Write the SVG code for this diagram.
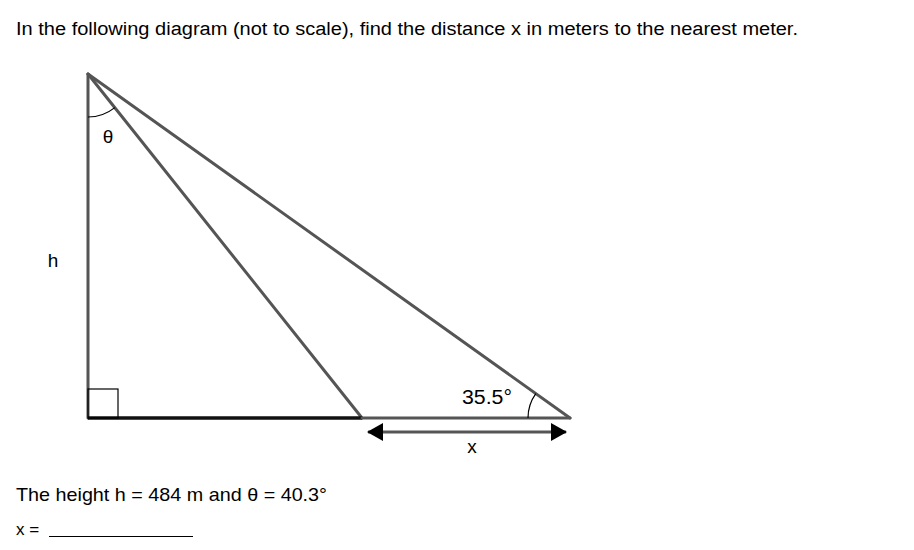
<svg xmlns="http://www.w3.org/2000/svg" width="914" height="550" viewBox="0 0 914 550">
<style>
text{font-family:"Liberation Sans",Arial,sans-serif;fill:#000}
.ln{stroke:#555;stroke-width:3;fill:none;stroke-linecap:round}
.thin{stroke:#000;stroke-width:1.2;fill:none}
.lbl{font-size:19px}
</style>
<defs>
<marker id="ah" viewBox="0 0 16 18" refX="15" refY="9" markerWidth="16" markerHeight="18" markerUnits="userSpaceOnUse" orient="auto-start-reverse">
<path d="M0,0 L16,9 L0,18 Z" fill="#000"/>
</marker>
</defs>
<rect width="914" height="550" fill="#fff"/>
<text x="16" y="35" font-size="18" textLength="782" lengthAdjust="spacingAndGlyphs">In the following diagram (not to scale), find the distance x in meters to the nearest meter.</text>
<g id="triangle">
<line class="ln" x1="88" y1="74" x2="88" y2="418"/>
<line class="ln" x1="88" y1="74" x2="362" y2="418"/>
<line class="ln" x1="88" y1="74" x2="570" y2="418"/>
<line x1="88" y1="418" x2="362" y2="418" stroke="#111" stroke-width="3.5"/>
<line class="ln" x1="362" y1="418" x2="570" y2="418"/>
</g>
<g id="right-angle">
<rect class="thin" x="88" y="389" width="30" height="29"/>
</g>
<g id="theta-angle">
<path class="thin" d="M88,117 A43,43 0 0 0 114.8,107.6"/>
<text class="lbl" x="108" y="143" text-anchor="middle">θ</text>
</g>
<g id="base-angle">
<path class="thin" d="M528,418 A42,42 0 0 1 535.8,393.6"/>
<text x="462" y="404" font-size="20" textLength="50" lengthAdjust="spacingAndGlyphs">35.5°</text>
</g>
<g id="h-label">
<text class="lbl" x="53" y="267" text-anchor="middle">h</text>
</g>
<g id="connectors">
<line x1="368" y1="432" x2="566" y2="432" stroke="#555" stroke-width="3" marker-start="url(#ah)" marker-end="url(#ah)"/>
</g>
<g id="x-label">
<text class="lbl" x="472" y="453" text-anchor="middle">x</text>
</g>
<text x="16" y="501" font-size="18.5" textLength="311" lengthAdjust="spacingAndGlyphs">The height h = 484 m and θ = 40.3°</text>
<text x="16" y="535" font-size="17">x =</text>
<line x1="49" y1="536.5" x2="193" y2="536.5" stroke="#000" stroke-width="1"/>
</svg>
